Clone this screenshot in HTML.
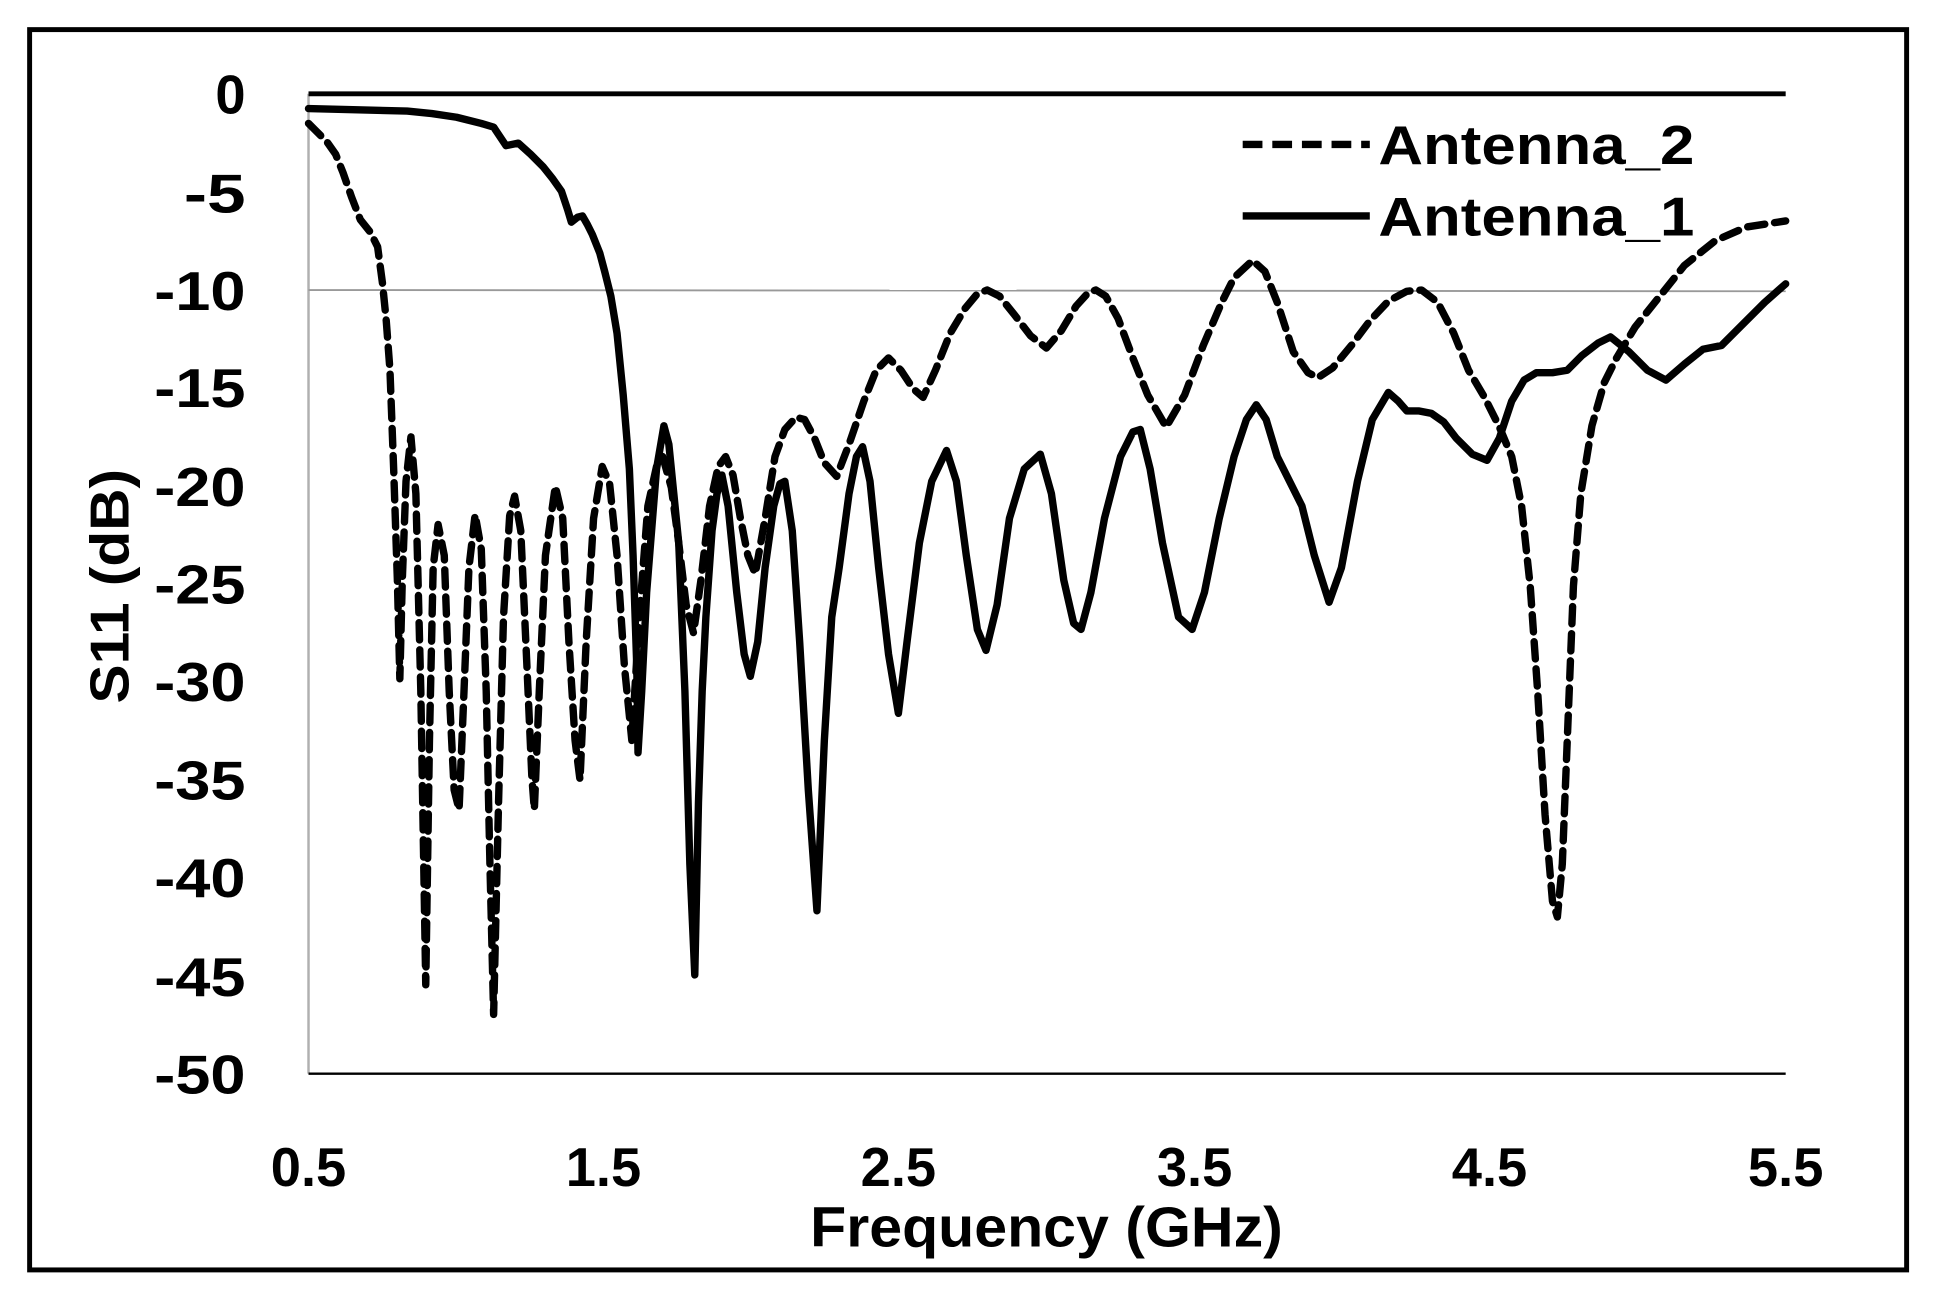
<!DOCTYPE html>
<html><head><meta charset="utf-8"><style>
html,body{margin:0;padding:0;background:#fff;}
svg{display:block;}
text{font-family:"Liberation Sans",sans-serif;font-weight:bold;fill:#000;}
</style></head><body>
<svg width="1935" height="1302" viewBox="0 0 1568 1055" preserveAspectRatio="none">
<rect x="0" y="0" width="1568" height="1055" fill="#fff"/>
<rect x="24" y="24" width="1521" height="1005" fill="none" stroke="#000" stroke-width="4"/>
<line x1="250" y1="76" x2="250" y2="870" stroke="#b0b0b0" stroke-width="2"/>
<line x1="250" y1="870" x2="1447" y2="870" stroke="#000" stroke-width="2"/>
<line x1="250" y1="235" x2="1447" y2="236" stroke="#999" stroke-width="1.5"/>
<line x1="250" y1="76" x2="1447" y2="76" stroke="#000" stroke-width="4"/>
<g font-size="44" text-anchor="end">
<text x="199" y="92">0</text>
<text x="199" y="172" textLength="50" lengthAdjust="spacingAndGlyphs">-5</text>
<text x="199" y="251" textLength="74" lengthAdjust="spacingAndGlyphs">-10</text>
<text x="199" y="330" textLength="74" lengthAdjust="spacingAndGlyphs">-15</text>
<text x="199" y="410" textLength="74" lengthAdjust="spacingAndGlyphs">-20</text>
<text x="199" y="489" textLength="74" lengthAdjust="spacingAndGlyphs">-25</text>
<text x="199" y="568" textLength="74" lengthAdjust="spacingAndGlyphs">-30</text>
<text x="199" y="648" textLength="74" lengthAdjust="spacingAndGlyphs">-35</text>
<text x="199" y="727" textLength="74" lengthAdjust="spacingAndGlyphs">-40</text>
<text x="199" y="807" textLength="74" lengthAdjust="spacingAndGlyphs">-45</text>
<text x="199" y="886" textLength="74" lengthAdjust="spacingAndGlyphs">-50</text>
</g>
<g font-size="44" text-anchor="middle">
<text x="250" y="961">0.5</text>
<text x="489" y="961">1.5</text>
<text x="728" y="961">2.5</text>
<text x="968" y="961">3.5</text>
<text x="1207" y="961">4.5</text>
<text x="1447" y="961">5.5</text>
<text x="848" y="1010" font-size="46" textLength="383" lengthAdjust="spacingAndGlyphs">Frequency (GHz)</text>
</g>
<text transform="translate(104,475) rotate(-90)" font-size="44" text-anchor="middle" textLength="190" lengthAdjust="spacingAndGlyphs">S11 (dB)</text>
<g font-size="44">
<text x="1117" y="133" textLength="256" lengthAdjust="spacingAndGlyphs">Antenna_2</text>
<text x="1117" y="191" textLength="256" lengthAdjust="spacingAndGlyphs">Antenna_1</text>
</g>
<line x1="1007" y1="117" x2="1110" y2="117" stroke="#000" stroke-width="6" stroke-dasharray="16,8"/>
<line x1="1007" y1="175" x2="1110" y2="175" stroke="#000" stroke-width="6"/>
<g fill="none" stroke="#000" stroke-width="6" stroke-linejoin="round" stroke-linecap="round">
<polyline points="250,88 290,89 330,90 350,92 370,95 390,100 400,103 410,118 420,116 430,125 440,135 448,145 455,155 460,170 463,180 468,176 472,175 476,182 480,190 486,205 490,220 495,240 500,270 505,320 510,380 513,450 516,540 517,610 520,560 524,480 528,430 532,380 538,345 542,360 546,400 550,440 555,560 559,700 563,790 566,650 569,560 572,500 577,430 581,400 585,385 590,410 597,480 603,530 608,548 614,520 620,460 627,410 632,392 636,390 642,430 648,520 655,640 662,738 668,600 674,500 680,460 688,400 694,370 699,362 705,390 712,460 720,530 728,578 735,520 745,440 755,390 767,365 775,390 783,450 792,510 799,527 808,490 818,420 830,380 843,368 852,400 862,470 870,505 876,510 884,480 895,420 908,370 918,350 924,348 932,380 942,440 955,500 966,510 976,480 988,420 1000,370 1010,340 1018,328 1026,340 1035,370 1045,390 1055,410 1065,450 1077,488 1087,460 1100,390 1112,340 1125,318 1133,325 1140,333 1150,333 1160,335 1170,342 1180,355 1193,368 1205,373 1215,355 1225,325 1235,308 1245,302 1258,302 1270,300 1282,288 1295,278 1305,273 1320,285 1335,300 1350,308 1365,295 1380,283 1395,280 1410,265 1430,245 1447,230"/>
<polyline stroke-dasharray="14,8" points="250,100 258,108 265,115 272,125 278,140 285,160 292,178 300,188 306,200 310,230 313,260 316,300 319,380 322,470 324,550 326,470 329,390 333,354 337,400 341,560 345,798 348,600 351,460 355,425 360,450 364,560 368,640 372,656 376,560 380,460 385,417 390,445 394,560 397,700 400,822 404,650 408,500 413,418 417,402 422,430 427,540 431,630 433,656 437,560 442,450 450,394 456,420 461,520 466,600 470,632 475,520 481,420 488,378 494,392 500,450 506,540 512,600 518,500 525,410 532,378 537,370 544,395 550,440 556,490 562,513 568,470 575,410 582,378 588,370 594,385 600,420 606,450 612,465 620,420 628,370 636,348 645,338 652,340 660,355 668,375 678,386 688,360 700,325 710,300 720,290 730,300 740,315 748,322 758,300 770,270 782,250 792,238 800,235 810,240 822,255 835,272 848,282 860,268 872,248 882,237 888,235 896,240 906,258 918,290 930,320 945,346 960,320 975,280 990,245 1000,225 1015,211 1025,220 1035,245 1048,285 1060,302 1068,306 1080,298 1095,280 1110,260 1125,244 1140,236 1152,235 1165,245 1178,270 1190,300 1203,322 1215,346 1225,370 1233,410 1240,475 1246,560 1252,660 1258,730 1262,743 1266,700 1270,600 1275,475 1281,400 1290,345 1300,310 1310,290 1325,265 1345,240 1365,215 1390,195 1415,184 1447,179"/>
</g>
</svg>
</body></html>
